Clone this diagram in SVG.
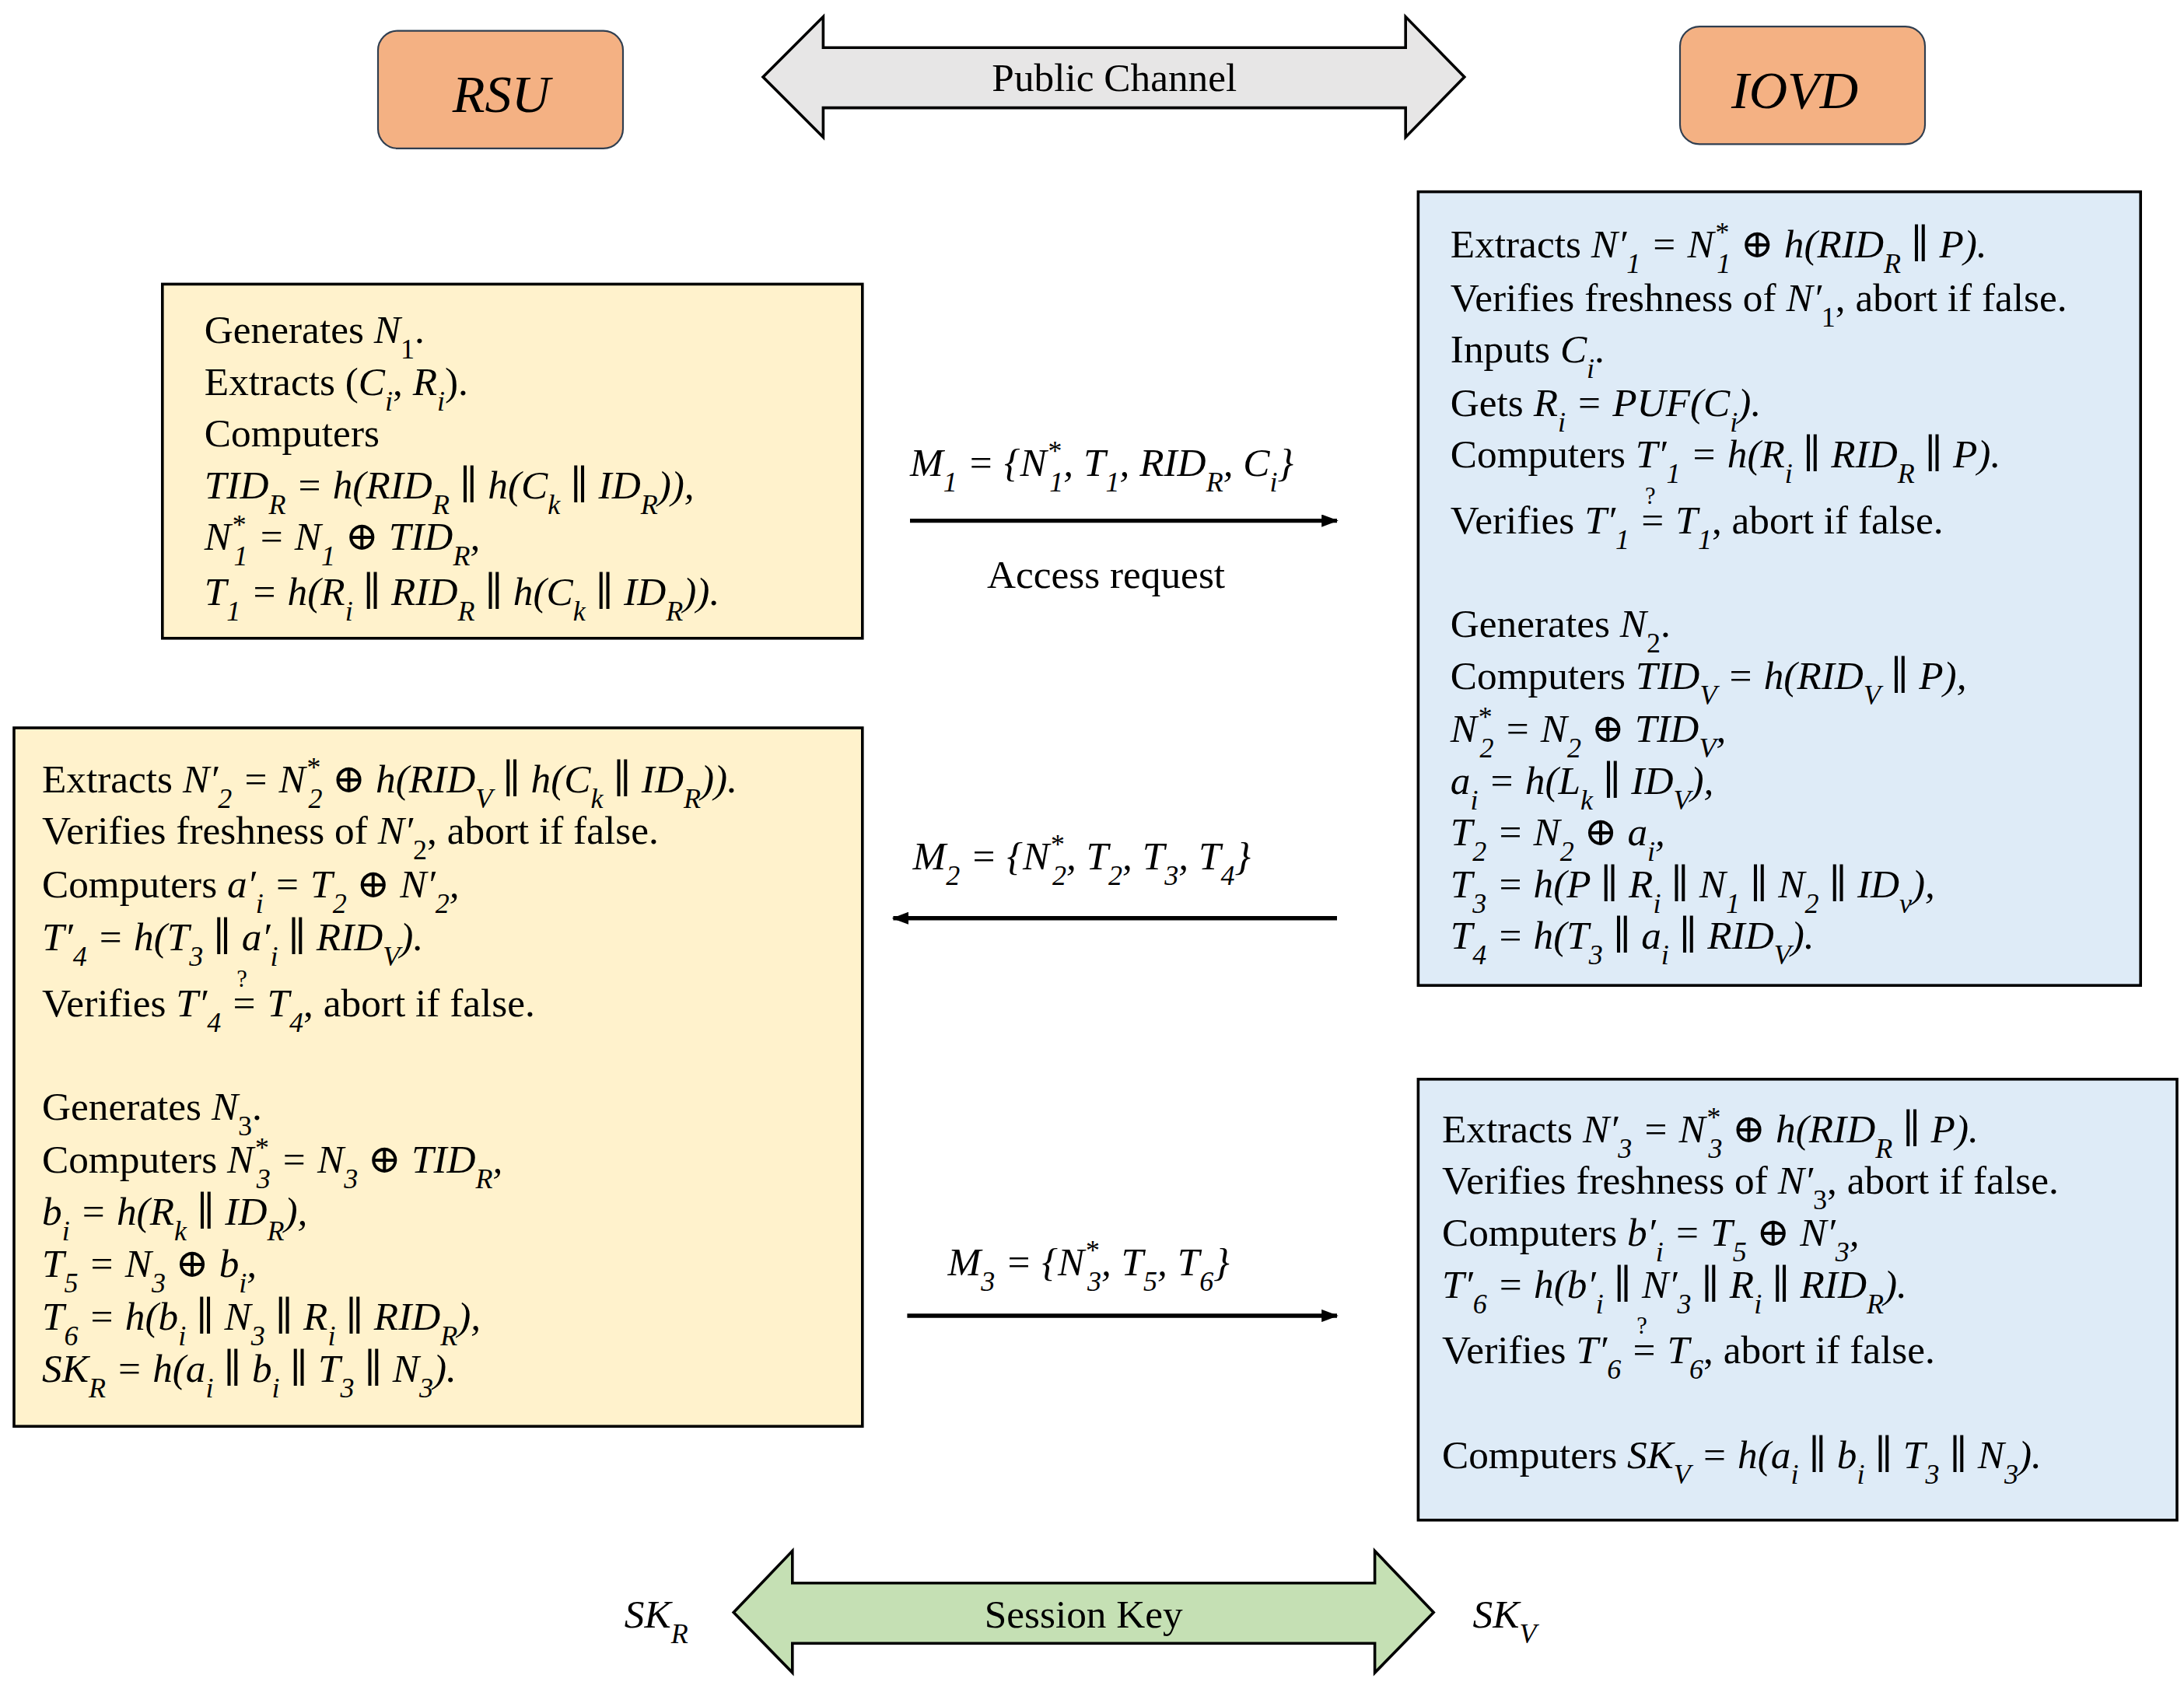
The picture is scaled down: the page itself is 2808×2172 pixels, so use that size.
<svg xmlns="http://www.w3.org/2000/svg" width="2808" height="2172" viewBox="0 0 2808 2172">
<style>
text{font-family:"Liberation Serif","DejaVu Serif",serif;font-size:28.5px;fill:#000}
.i{font-style:italic}
.b{font-size:20px;baseline-shift:sub}
.u{font-size:20px;baseline-shift:super}
.q{font-size:17px;font-style:normal}
.hdr{font-size:38px;font-style:italic;text-anchor:middle}
.lab{text-anchor:middle}
.box{stroke:#000;stroke-width:2}
.yl{fill:#FFF2CC}.bl{fill:#DEEBF7}
.ent{fill:#F4B183;stroke:#2F3E50;stroke-width:1.2}
.conn{stroke:#000;stroke-width:3;fill:none}
</style>
<defs><marker id="ah" markerWidth="12" markerHeight="9" refX="11" refY="4.5" orient="auto" markerUnits="userSpaceOnUse"><path d="M0,0 L12,4.5 L0,9 z" fill="#000"/></marker></defs>
<rect width="2808" height="2172" fill="#fff"/>
<g transform="scale(1.8)">
<g id="rsu"><rect class="ent" x="270" y="22" width="175" height="84" rx="14"/><text class="hdr" x="358" y="80">RSU</text></g>
<g id="iovd"><rect class="ent" x="1200" y="19" width="175" height="84" rx="14"/><text class="hdr" x="1282" y="77">IOVD</text></g>
<g id="public-channel"><path d="M545,55 L588,12 L588,34 L1004,34 L1004,12 L1046,55 L1004,98 L1004,77 L588,77 L588,98 Z" fill="#E7E6E6" stroke="#000" stroke-width="2"/><text class="lab" x="796" y="65">Public Channel</text></g>
<g id="session-key"><path d="M524,1152 L566,1108 L566,1131 L982,1131 L982,1108 L1024,1152 L982,1195 L982,1174 L566,1174 L566,1195 Z" fill="#C5E0B4" stroke="#000" stroke-width="2"/><text class="lab" x="774" y="1163">Session Key</text>
<text x="446" y="1163" class="i">SK<tspan class="b">R</tspan></text><text x="1052" y="1163" class="i">SK<tspan class="b">V</tspan></text></g>

<g id="rsu-step1"><rect class="box yl" x="116" y="203" width="500" height="253"/>
<text x="146" y="245">Generates <tspan class="i">N</tspan><tspan class="b">1</tspan>.</text>
<text x="146" y="282">Extracts (<tspan class="i">C</tspan><tspan class="b i">i</tspan>, <tspan class="i">R</tspan><tspan class="b i">i</tspan>).</text>
<text x="146" y="319">Computers</text>
<text x="146" y="356" class="i">TID<tspan class="b">R</tspan> = h(RID<tspan class="b">R</tspan> ∥ h(C<tspan class="b">k</tspan> ∥ ID<tspan class="b">R</tspan>)),</text>
<text x="146" y="393" class="i">N<tspan class="u">*</tspan><tspan class="b" dx="-8">1</tspan> = N<tspan class="b">1</tspan> ⊕ TID<tspan class="b">R</tspan>,</text>
<text x="146" y="432" class="i">T<tspan class="b">1</tspan> = h(R<tspan class="b">i</tspan> ∥ RID<tspan class="b">R</tspan> ∥ h(C<tspan class="b">k</tspan> ∥ ID<tspan class="b">R</tspan>)).</text>
</g>

<g id="iovd-step1"><rect class="box bl" x="1013" y="137" width="516" height="567"/>
<text x="1036" y="184">Extracts <tspan class="i">N′<tspan class="b">1</tspan> = N<tspan class="u">*</tspan><tspan class="b" dx="-8">1</tspan> ⊕ h(RID<tspan class="b">R</tspan> ∥ P).</tspan></text>
<text x="1036" y="222">Verifies freshness of <tspan class="i">N′</tspan><tspan class="b">1</tspan>, abort if false.</text>
<text x="1036" y="259">Inputs <tspan class="i">C</tspan><tspan class="b i">i</tspan>.</text>
<text x="1036" y="297">Gets <tspan class="i">R<tspan class="b">i</tspan> = PUF(C<tspan class="b">i</tspan>).</tspan></text>
<text x="1036" y="334">Computers <tspan class="i">T′<tspan class="b">1</tspan> = h(R<tspan class="b">i</tspan> ∥ RID<tspan class="b">R</tspan> ∥ P).</tspan></text>
<text x="1036" y="381">Verifies <tspan class="i">T′<tspan class="b">1</tspan> <tspan class="q" dx="4" dy="-21">?</tspan><tspan dx="-12" dy="21">=</tspan> T<tspan class="b">1</tspan></tspan>, abort if false.</text>
<text x="1036" y="455">Generates <tspan class="i">N</tspan><tspan class="b">2</tspan>.</text>
<text x="1036" y="492">Computers <tspan class="i">TID<tspan class="b">V</tspan> = h(RID<tspan class="b">V</tspan> ∥ P),</tspan></text>
<text x="1036" y="530" class="i">N<tspan class="u">*</tspan><tspan class="b" dx="-8">2</tspan> = N<tspan class="b">2</tspan> ⊕ TID<tspan class="b">V</tspan>,</text>
<text x="1036" y="567" class="i">a<tspan class="b">i</tspan> = h(L<tspan class="b">k</tspan> ∥ ID<tspan class="b">V</tspan>),</text>
<text x="1036" y="604" class="i">T<tspan class="b">2</tspan> = N<tspan class="b">2</tspan> ⊕ a<tspan class="b">i</tspan>,</text>
<text x="1036" y="641" class="i">T<tspan class="b">3</tspan> = h(P ∥ R<tspan class="b">i</tspan> ∥ N<tspan class="b">1</tspan> ∥ N<tspan class="b">2</tspan> ∥ ID<tspan class="b">v</tspan>),</text>
<text x="1036" y="678" class="i">T<tspan class="b">4</tspan> = h(T<tspan class="b">3</tspan> ∥ a<tspan class="b">i</tspan> ∥ RID<tspan class="b">V</tspan>).</text>
</g>

<g id="rsu-step2"><rect class="box yl" x="10" y="520" width="606" height="499"/>
<text x="30" y="566">Extracts <tspan class="i">N′<tspan class="b">2</tspan> = N<tspan class="u">*</tspan><tspan class="b" dx="-8">2</tspan> ⊕ h(RID<tspan class="b">V</tspan> ∥ h(C<tspan class="b">k</tspan> ∥ ID<tspan class="b">R</tspan>)).</tspan></text>
<text x="30" y="603">Verifies freshness of <tspan class="i">N′</tspan><tspan class="b">2</tspan>, abort if false.</text>
<text x="30" y="641">Computers <tspan class="i">a′<tspan class="b">i</tspan> = T<tspan class="b">2</tspan> ⊕ N′<tspan class="b">2</tspan>,</tspan></text>
<text x="30" y="679" class="i">T′<tspan class="b">4</tspan> = h(T<tspan class="b">3</tspan> ∥ a′<tspan class="b">i</tspan> ∥ RID<tspan class="b">V</tspan>).</text>
<text x="30" y="726">Verifies <tspan class="i">T′<tspan class="b">4</tspan> <tspan class="q" dx="4" dy="-21">?</tspan><tspan dx="-12" dy="21">=</tspan> T<tspan class="b">4</tspan></tspan>, abort if false.</text>
<text x="30" y="800">Generates <tspan class="i">N</tspan><tspan class="b">3</tspan>.</text>
<text x="30" y="838">Computers <tspan class="i">N<tspan class="u">*</tspan><tspan class="b" dx="-8">3</tspan> = N<tspan class="b">3</tspan> ⊕ TID<tspan class="b">R</tspan>,</tspan></text>
<text x="30" y="875" class="i">b<tspan class="b">i</tspan> = h(R<tspan class="b">k</tspan> ∥ ID<tspan class="b">R</tspan>),</text>
<text x="30" y="912" class="i">T<tspan class="b">5</tspan> = N<tspan class="b">3</tspan> ⊕ b<tspan class="b">i</tspan>,</text>
<text x="30" y="950" class="i">T<tspan class="b">6</tspan> = h(b<tspan class="b">i</tspan> ∥ N<tspan class="b">3</tspan> ∥ R<tspan class="b">i</tspan> ∥ RID<tspan class="b">R</tspan>),</text>
<text x="30" y="987" class="i">SK<tspan class="b">R</tspan> = h(a<tspan class="b">i</tspan> ∥ b<tspan class="b">i</tspan> ∥ T<tspan class="b">3</tspan> ∥ N<tspan class="b">3</tspan>).</text>
</g>

<g id="iovd-step2"><rect class="box bl" x="1013" y="771" width="542" height="315"/>
<text x="1030" y="816">Extracts <tspan class="i">N′<tspan class="b">3</tspan> = N<tspan class="u">*</tspan><tspan class="b" dx="-8">3</tspan> ⊕ h(RID<tspan class="b">R</tspan> ∥ P).</tspan></text>
<text x="1030" y="853">Verifies freshness of <tspan class="i">N′</tspan><tspan class="b">3</tspan>, abort if false.</text>
<text x="1030" y="890">Computers <tspan class="i">b′<tspan class="b">i</tspan> = T<tspan class="b">5</tspan> ⊕ N′<tspan class="b">3</tspan>,</tspan></text>
<text x="1030" y="927" class="i">T′<tspan class="b">6</tspan> = h(b′<tspan class="b">i</tspan> ∥ N′<tspan class="b">3</tspan> ∥ R<tspan class="b">i</tspan> ∥ RID<tspan class="b">R</tspan>).</text>
<text x="1030" y="974">Verifies <tspan class="i">T′<tspan class="b">6</tspan> <tspan class="q" dx="4" dy="-21">?</tspan><tspan dx="-12" dy="21">=</tspan> T<tspan class="b">6</tspan></tspan>, abort if false.</text>
<text x="1030" y="1049">Computers <tspan class="i">SK<tspan class="b">V</tspan> = h(a<tspan class="b">i</tspan> ∥ b<tspan class="b">i</tspan> ∥ T<tspan class="b">3</tspan> ∥ N<tspan class="b">3</tspan>).</tspan></text>
</g>

<g id="connectors">
<line class="conn" x1="650" y1="372" x2="955" y2="372" marker-end="url(#ah)"/>
<line class="conn" x1="955" y1="656" x2="638" y2="656" marker-end="url(#ah)"/>
<line class="conn" x1="648" y1="940" x2="955" y2="940" marker-end="url(#ah)"/>
<text x="650" y="340" class="i">M<tspan class="b">1</tspan> = {N<tspan class="u">*</tspan><tspan class="b" dx="-8">1</tspan>, T<tspan class="b">1</tspan>, RID<tspan class="b">R</tspan>, C<tspan class="b">i</tspan>}</text>
<text class="lab" x="790" y="420">Access request</text>
<text x="652" y="621" class="i">M<tspan class="b">2</tspan> = {N<tspan class="u">*</tspan><tspan class="b" dx="-8">2</tspan>, T<tspan class="b">2</tspan>, T<tspan class="b">3</tspan>, T<tspan class="b">4</tspan>}</text>
<text x="677" y="911" class="i">M<tspan class="b">3</tspan> = {N<tspan class="u">*</tspan><tspan class="b" dx="-8">3</tspan>, T<tspan class="b">5</tspan>, T<tspan class="b">6</tspan>}</text>
</g>
</g>
</svg>
